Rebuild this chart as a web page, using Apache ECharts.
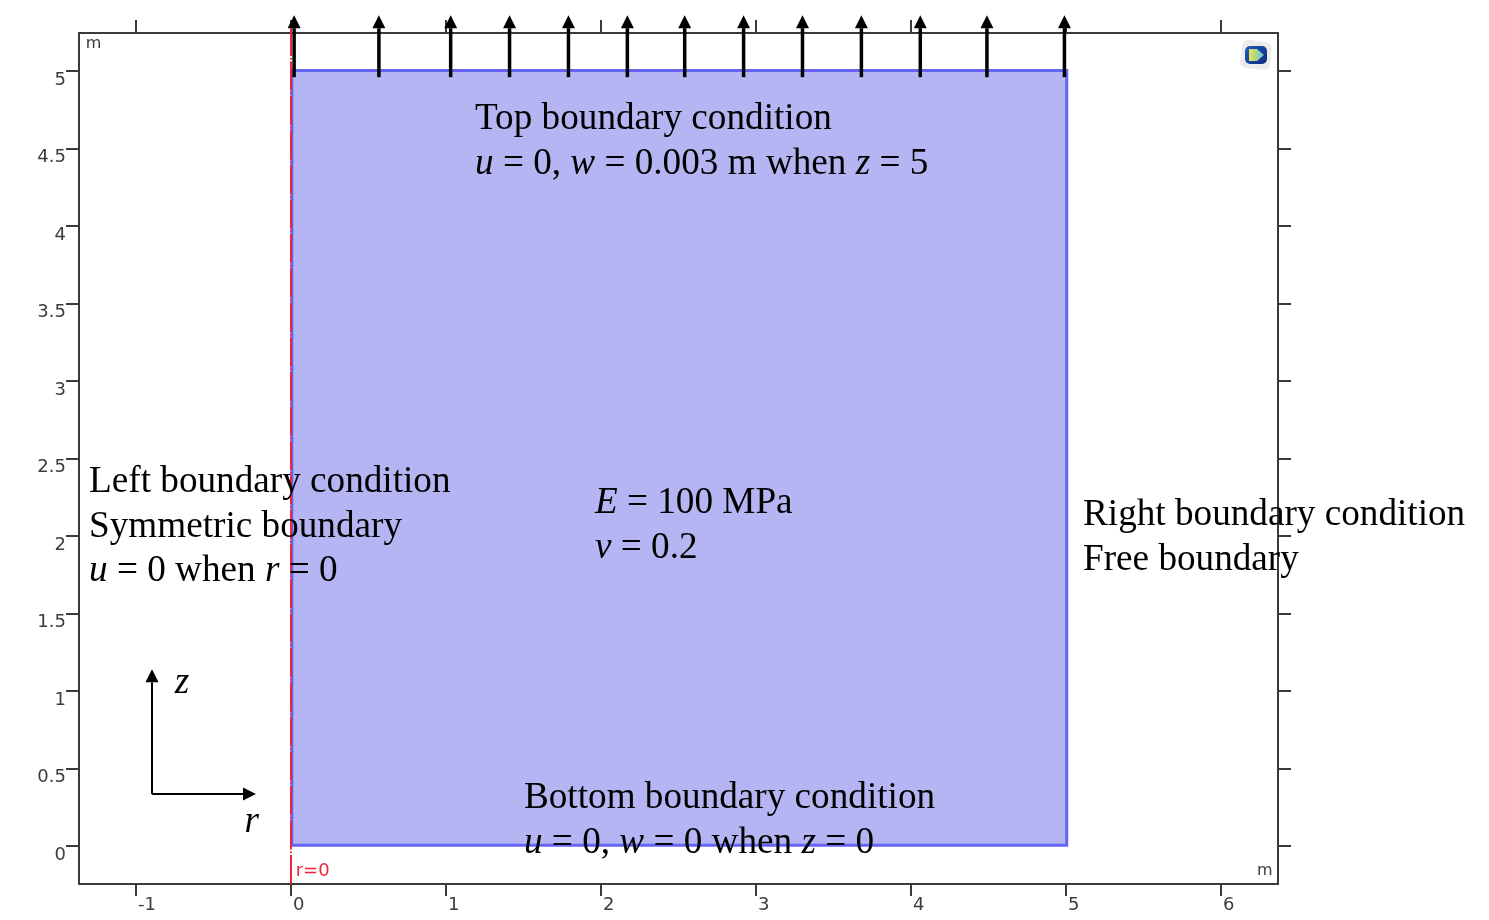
<!DOCTYPE html>
<html>
<head>
<meta charset="utf-8">
<title>Boundary conditions</title>
<style>
  html, body { margin: 0; padding: 0; background: #fff; }
  #chart { width: 1489px; height: 920px; }
</style>
<script src="https://cdn.jsdelivr.net/npm/echarts@6/dist/echarts.min.js"></script>
</head>
<body>
<div id="chart"></div>
<script>
// axis ticks
const rTicks = [-1, 0, 1, 2, 3, 4, 5, 6];
const zTicks = [0, 0.5, 1, 1.5, 2, 2.5, 3, 3.5, 4, 4.5, 5];

// axis limits
const rRange = [-1.368, 6.368];
const zRange = [-0.245, 5.245];

// the soil block
const blockR = [0.005, 5.005];
const blockZ = [0.005, 5.003];

// load arrows along the top, r position of each one
const loadR = [0.02, 0.567, 1.03, 1.41, 1.79, 2.17, 2.54, 2.92, 3.3, 3.68, 4.06, 4.49, 4.99];
const loadZ = [4.96, 5.36];

// r-z triad, [r0, z0, r1, z1]
const triad = [
  [-0.897, 0.335, -0.897, 1.14],
  [-0.897, 0.335, -0.226, 0.335]
];

// symmetry axis
const axisLineR = [0, 0];
const axisLineZ = [-0.245, 5.3];

// notes, {i|..} is italic
const topNote = 'Top boundary condition\n{i|u} = 0, {i|w} = 0.003 m when {i|z} = 5';
const leftNote = 'Left boundary condition\nSymmetric boundary\n{i|u} = 0 when {i|r} = 0';
const rightNote = 'Right boundary condition\nFree boundary';
const bottomNote = 'Bottom boundary condition\n{i|u} = 0, {i|w} = 0 when {i|z} = 0';
const materialNote = '{i|E} = 100 MPa\n{i|v} = 0.2';

const AXIS_COLOR = '#3a3a3a';
const LABEL_COLOR = '#3c3c3c';
const SANS = '"DejaVu Sans"';
const SERIF = '"Liberation Serif"';

const chart = echarts.init(document.getElementById('chart'), null, { renderer: 'canvas' });

// axis with ticks only, used for the top and right sides
function sideAxis(range, ticks, position) {
  return {
    type: 'value',
    position: position,
    min: range[0],
    max: range[1],
    splitLine: { show: false },
    axisLine: { show: true, onZero: false, lineStyle: { color: AXIS_COLOR, width: 2 } },
    axisTick: { show: true, length: 13, customValues: ticks, lineStyle: { color: AXIS_COLOR, width: 2 } },
    axisLabel: { show: false }
  };
}

// line with a filled head at its end
function arrow(api, from, to, width, headLen, headWidth) {
  const a = api.coord(from);
  const b = api.coord(to);
  const len = Math.hypot(b[0] - a[0], b[1] - a[1]);
  const ux = (b[0] - a[0]) / len;
  const uy = (b[1] - a[1]) / len;
  const neck = [b[0] - ux * headLen, b[1] - uy * headLen];
  return [
    {
      type: 'line',
      shape: { x1: a[0], y1: a[1], x2: neck[0], y2: neck[1] },
      style: { stroke: '#000', lineWidth: width }
    },
    {
      type: 'polygon',
      shape: {
        points: [
          b,
          [neck[0] - uy * headWidth / 2, neck[1] + ux * headWidth / 2],
          [neck[0] + uy * headWidth / 2, neck[1] - ux * headWidth / 2]
        ]
      },
      style: { fill: '#000' }
    }
  ];
}

function noteSeries(r, z, text, size, color, family, rowHeight) {
  const base = { fontFamily: family, fontSize: size, color: color, lineHeight: rowHeight };
  return {
    type: 'scatter',
    xAxisIndex: 0,
    yAxisIndex: 0,
    symbolSize: 0,
    silent: true,
    clip: false,
    z: 20,
    itemStyle: { opacity: 1 },
    data: [[r, z]],
    label: {
      show: true,
      position: 'right',
      distance: 0,
      formatter: text,
      align: 'left',
      ...base,
      rich: {
        i: { ...base, fontStyle: 'italic' }
      }
    }
  };
}

const option = {
  backgroundColor: '#fff',
  animation: false,
  grid: { left: 79, right: 211, top: 33, bottom: 36, containLabel: false },
  xAxis: [
    {
      type: 'value',
      position: 'bottom',
      min: rRange[0],
      max: rRange[1],
      splitLine: { show: false },
      axisLine: { show: true, onZero: false, lineStyle: { color: AXIS_COLOR, width: 2 } },
      axisTick: { show: true, length: 12, customValues: rTicks, lineStyle: { color: AXIS_COLOR, width: 2 } },
      axisLabel: {
        customValues: rTicks,
        margin: 12,
        align: 'left',
        padding: [0, 0, 0, 2],
        color: LABEL_COLOR,
        fontFamily: SANS,
        fontSize: 18
      }
    },
    sideAxis(rRange, rTicks, 'top')
  ],
  yAxis: [
    {
      type: 'value',
      position: 'left',
      min: zRange[0],
      max: zRange[1],
      splitLine: { show: false },
      axisLine: { show: true, onZero: false, lineStyle: { color: AXIS_COLOR, width: 2 } },
      axisTick: { show: true, length: 13, customValues: zTicks, lineStyle: { color: AXIS_COLOR, width: 2 } },
      axisLabel: {
        customValues: zTicks,
        margin: 13,
        verticalAlign: 'top',
        color: LABEL_COLOR,
        fontFamily: SANS,
        fontSize: 18
      }
    },
    sideAxis(zRange, zTicks, 'right')
  ],
  series: [
    // soil block
    {
      type: 'custom',
      coordinateSystem: 'cartesian2d',
      silent: true,
      z: 3,
      data: [[blockR[0], blockZ[0], blockR[1], blockZ[1]]],
      renderItem: function (params, api) {
        const p0 = api.coord([api.value(0), api.value(1)]);
        const p1 = api.coord([api.value(2), api.value(3)]);
        return {
          type: 'rect',
          shape: { x: p0[0], y: p1[1], width: p1[0] - p0[0], height: p0[1] - p1[1] },
          style: { fill: '#b5b5f3', stroke: '#6464f6', lineWidth: 3 }
        };
      }
    },
    // symmetry axis
    {
      type: 'line',
      silent: true,
      clip: false,
      z: 4,
      symbol: 'none',
      data: axisLineR.map((r, i) => [r, axisLineZ[i]]),
      lineStyle: { color: '#f0243c', width: 2, type: [29, 2, 1.5, 2] }
    },
    // top load arrows
    {
      type: 'custom',
      coordinateSystem: 'cartesian2d',
      silent: true,
      clip: false,
      z: 6,
      data: loadR.map(r => [r, loadZ[0], r, loadZ[1]]),
      renderItem: function (params, api) {
        return {
          type: 'group',
          children: arrow(api, [api.value(0), api.value(1)], [api.value(2), api.value(3)], 3.5, 13, 13)
        };
      }
    },
    // triad
    {
      type: 'custom',
      coordinateSystem: 'cartesian2d',
      silent: true,
      clip: false,
      z: 6,
      data: triad,
      renderItem: function (params, api) {
        return {
          type: 'group',
          children: arrow(api, [api.value(0), api.value(1)], [api.value(2), api.value(3)], 2, 13, 13)
        };
      }
    },
    noteSeries(1.187, 4.545, topNote, 37.2, '#000', SERIF, 44.5),
    noteSeries(-1.303, 2.057, leftNote, 37.2, '#000', SERIF, 44.5),
    noteSeries(5.11, 1.99, rightNote, 37.2, '#000', SERIF, 44.5),
    noteSeries(1.503, 0.164, bottomNote, 37.2, '#000', SERIF, 44.5),
    noteSeries(1.961, 2.067, materialNote, 37.2, '#000', SERIF, 44.5),
    noteSeries(-0.75, 1.052, '{i|z}', 37.2, '#000', SERIF, 44.5),
    noteSeries(-0.3, 0.155, '{i|r}', 37.2, '#000', SERIF, 44.5),
    noteSeries(-1.325, 5.174, 'm', 16, LABEL_COLOR, SANS, 18),
    noteSeries(6.232, -0.161, 'm', 16, LABEL_COLOR, SANS, 18),
    noteSeries(0.03, -0.165, 'r=0', 18, '#f0243c', SANS, 20)
  ],
  // little logo in the corner
  graphic: [
    {
      type: 'group',
      x: 1256,
      y: 55,
      silent: true,
      children: [
        { type: 'rect', shape: { x: -15, y: -14, width: 30, height: 28, r: 6 }, rotation: -0.12, style: { fill: '#ececec' } },
        {
          type: 'rect',
          shape: { x: -11, y: -9, width: 22, height: 18, r: 5 },
          style: {
            fill: new echarts.graphic.LinearGradient(0, 0, 1, 1, [
              { offset: 0, color: '#1d5fc4' },
              { offset: 1, color: '#0c2a78' }
            ])
          }
        },
        {
          type: 'polygon',
          shape: { points: [[-7, -6], [1, -6], [8, 0], [1, 6], [-7, 6]] },
          style: {
            fill: new echarts.graphic.LinearGradient(0, 0, 1, 0, [
              { offset: 0, color: '#f2e24c' },
              { offset: 1, color: '#5cc4d8' }
            ])
          }
        }
      ]
    }
  ]
};

chart.setOption(option);
</script>
</body>
</html>
